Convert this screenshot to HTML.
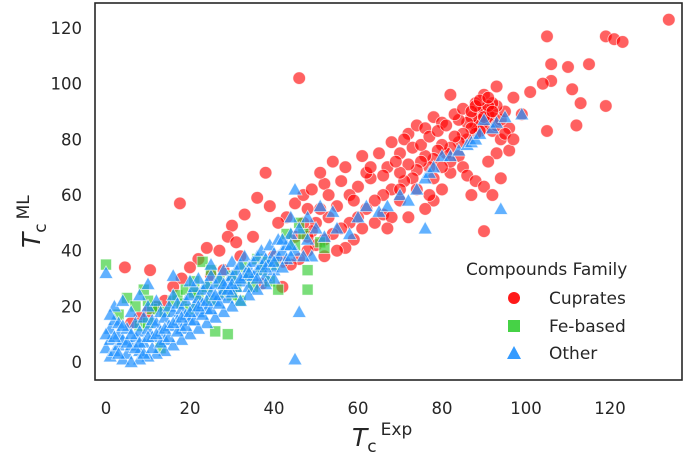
<!DOCTYPE html>
<html><head><meta charset="utf-8"><style>
body{margin:0;background:#fff}
svg{display:block;font-family:"DejaVu Sans","Liberation Sans",sans-serif}
</style></head><body>
<svg id="chart" width="685" height="456" viewBox="0 0 685 456">
<g id="marks"></g>
<rect x="95" y="3" width="587" height="377" fill="none" stroke="#262626" stroke-width="1.6"/>
<g id="xticks" font-size="16.5" fill="#262626" text-anchor="middle"></g>
<g id="yticks" font-size="16.5" fill="#262626" text-anchor="end"></g>
<text x="352" y="446" font-size="25" fill="#262626"><tspan font-style="italic">T</tspan><tspan font-size="17" dy="6">c</tspan><tspan font-size="17" dy="-17" dx="4">Exp</tspan></text>
<text transform="translate(40,248) rotate(-90)" font-size="25" fill="#262626"><tspan font-style="italic">T</tspan><tspan font-size="17" dy="6">c</tspan><tspan font-size="17" dy="-17" dx="4">ML</tspan></text>
<g>
<text x="466" y="275" font-size="17" fill="#262626">Compounds Family</text>
<circle cx="514" cy="298" r="6" fill="#ff0000" opacity="0.9"/>
<text x="549" y="304" font-size="17" fill="#262626">Cuprates</text>
<rect x="508" y="320" width="12" height="12" fill="#32cd32" opacity="0.9"/>
<text x="549" y="332" font-size="17" fill="#262626">Fe-based</text>
<polygon points="514,346 521,359 507,359" fill="#1e90ff" opacity="0.9"/>
<text x="549" y="359" font-size="17" fill="#262626">Other</text>
</g>
</svg>
<script>
const xTicks=[0,20,40,60,80,100,120];
const yTicks=[0,20,40,60,80,100,120];
const cuprates=[[134,123],[105,117],[119,117],[121,116],[123,115],[106,107],[110,106],[115,107],[106,101],[111,98],[101,97],[104,100],[113,93],[119,92],[105,83],[112,85],[46,102],[97,95],[99,89],[96,84],[93,99],[90,96],[88,93],[89,90],[90,91],[91,89],[92,88],[91,86],[89,87],[88,85],[87,88],[86,86],[90,84],[92,83],[93,85],[94,87],[95,90],[93,92],[92,93],[91,92],[90,88],[89,83],[88,82],[87,84],[86,80],[85,82],[84,79],[83,81],[82,77],[81,75],[80,78],[79,76],[78,73],[77,70],[76,74],[75,72],[74,69],[73,66],[72,71],[71,65],[70,68],[84,74],[85,70],[86,67],[88,65],[90,63],[87,60],[92,60],[94,66],[96,76],[93,75],[91,72],[82,68],[80,62],[78,58],[76,55],[72,52],[90,47],[77,60],[70,58],[68,62],[66,60],[64,58],[62,55],[60,52],[58,50],[56,48],[54,46],[52,44],[50,42],[63,66],[60,63],[58,60],[56,65],[55,56],[53,52],[51,55],[50,50],[49,47],[48,45],[61,48],[64,50],[66,53],[68,52],[59,44],[57,41],[55,40],[52,38],[48,40],[46,37],[44,35],[42,36],[40,38],[65,75],[68,79],[72,82],[74,85],[78,88],[82,96],[84,87],[80,86],[76,84],[70,75],[67,70],[62,68],[57,70],[52,64],[54,72],[48,55],[45,57],[43,52],[41,50],[38,68],[36,59],[33,53],[30,49],[29,45],[31,43],[27,40],[24,41],[39,56],[35,45],[32,38],[22,37],[20,34],[18,30],[16,27],[14,22],[12,20],[10,18],[8,16],[6,14],[17.6,57],[4.5,34],[10.5,33],[25,31],[28,33],[37,28],[42,27],[47,60],[51,68],[53,60],[59,58],[61,74],[63,70],[66,67],[69,72],[71,80],[73,77],[75,78],[77,81],[79,83],[81,85],[83,89],[85,91],[87,90],[88,92],[89,94],[91,95],[92,90],[94,80],[95,82],[97,80],[82,72],[80,70],[78,66],[74,62],[70,62],[67,48],[45,45],[47,50],[49,62]];
const feBased=[[0,35],[3,17],[8,13],[9,26],[10,14],[12,20],[14,18],[16,22],[17,24],[18,21],[19,26],[20,19],[21,29],[22,24],[23,36],[24,27],[25,22],[26,11],[27,29],[28,25],[29,10],[30,31],[31,27],[32,22],[33,34],[34,30],[35,27],[36,37],[37,33],[38,36],[39,29],[40,35],[41,26],[43,46],[45,42],[46,50],[47,46],[48,33],[48,26],[51,43],[52,41],[5,23],[13,5],[11,19],[25,33],[21,25],[7,20],[10,22],[30,24]];
const other=[[0,32],[0,5],[1,2],[1,8],[1,12],[2,4],[2,15],[3,6],[3,10],[4,1],[4,8],[5,12],[5,3],[6,6],[6,18],[7,9],[7,14],[8,4],[8,11],[9,16],[9,7],[10,12],[10,20],[11,9],[11,15],[12,14],[12,22],[13,11],[13,18],[14,16],[14,8],[15,20],[15,13],[16,18],[16,24],[17,15],[17,21],[18,19],[18,12],[19,22],[19,17],[20,24],[20,15],[21,20],[21,27],[22,23],[22,18],[23,26],[23,21],[24,28],[24,19],[25,25],[25,31],[26,22],[26,28],[27,30],[27,24],[28,26],[28,33],[29,29],[29,23],[30,31],[30,36],[31,27],[31,33],[32,35],[32,29],[33,31],[33,38],[34,34],[34,27],[35,36],[35,31],[36,38],[36,33],[37,40],[37,35],[38,37],[38,31],[39,42],[39,36],[40,39],[40,33],[41,44],[41,38],[42,40],[43,42],[43,37],[44,46],[45,40],[46,48],[45,1],[44,52],[46,18],[48,44],[49,38],[45,62],[52,45],[55,48],[58,46],[60,52],[62,56],[65,54],[67,56],[70,60],[72,58],[74,62],[76,66],[77,68],[78,70],[80,74],[82,74],[84,76],[86,78],[87,79],[88,80],[89,82],[90,87],[92,84],[93,86],[95,88],[99,89],[76,48],[94,55],[50,48],[48,52],[51,56],[54,54],[40,30],[38,28],[36,26],[34,24],[32,22],[30,20],[28,18],[26,16],[24,14],[22,12],[20,10],[18,8],[16,6],[14,4],[12,3],[10,2],[8,1],[6,0],[3,14],[2,20],[1,17],[4,22],[8,24],[10,28],[22,30],[25,35],[30,25],[3,3],[5,7],[7,5],[9,3],[11,5],[13,7],[15,9],[17,11],[19,13],[21,15],[23,17],[25,19],[27,21],[29,26],[0,10],[2,9],[4,13],[6,10],[8,7],[10,9],[12,10],[14,12],[16,14],[18,16],[20,18],[22,20],[24,22],[26,24],[28,28],[30,28],[32,30],[34,32],[36,30],[38,34],[40,36],[42,34],[44,38],[20,29],[16,31],[42,44],[47,38],[44,42]];

const NS='http://www.w3.org/2000/svg';
function sx(v){return 106+v*4.2;}
function sy(v){return 362-v*2.783;}
const marks=document.getElementById('marks');
cuprates.forEach(function(d){
  const c=document.createElementNS(NS,'circle');
  c.setAttribute('cx',sx(d[0]));c.setAttribute('cy',sy(d[1]));c.setAttribute('r',6.3);
  c.setAttribute('fill','rgba(255,0,0,0.62)');c.setAttribute('stroke','rgba(255,255,255,0.7)');c.setAttribute('stroke-width','0.8');
  
  
  marks.appendChild(c);
});
feBased.forEach(function(d){
  const r=document.createElementNS(NS,'rect');
  r.setAttribute('x',sx(d[0])-5.5);r.setAttribute('y',sy(d[1])-5.5);r.setAttribute('width',11);r.setAttribute('height',11);
  r.setAttribute('fill','rgba(50,205,50,0.65)');r.setAttribute('stroke','rgba(255,255,255,0.7)');r.setAttribute('stroke-width','0.8');
  
  
  marks.appendChild(r);
});
other.forEach(function(d){
  const x=sx(d[0]),y=sy(d[1]);
  const p=document.createElementNS(NS,'polygon');
  p.setAttribute('points',x+','+(y-7)+' '+(x+7)+','+(y+5.5)+' '+(x-7)+','+(y+5.5));
  p.setAttribute('fill','rgba(30,144,255,0.7)');p.setAttribute('stroke','rgba(255,255,255,0.7)');p.setAttribute('stroke-width','0.8');
  
  
  marks.appendChild(p);
});
const xg=document.getElementById('xticks');
xTicks.forEach(function(t){
  const e=document.createElementNS(NS,'text');
  e.setAttribute('x',sx(t));e.setAttribute('y',414);e.textContent=t;
  
  
  xg.appendChild(e);
});
const yg=document.getElementById('yticks');
yTicks.forEach(function(t){
  const e=document.createElementNS(NS,'text');
  e.setAttribute('x',82);e.setAttribute('y',sy(t)+6);e.textContent=t;
  
  
  yg.appendChild(e);
});
</script>
</body></html>
